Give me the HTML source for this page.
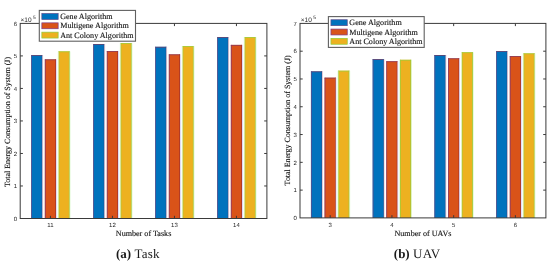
<!DOCTYPE html>
<html><head><meta charset="utf-8"><style>
html,body{margin:0;padding:0;background:#fff;}
svg{display:block;text-rendering:geometricPrecision;}
.tk{font-family:"Liberation Sans",sans-serif;font-size:6px;fill:#222;}
.sup{font-size:4.9px;}
.ex{font-size:6.5px;}
.lab{font-family:"Liberation Serif",serif;font-size:8.1px;fill:#111;stroke:#111;stroke-width:0.12px;}
.cap{font-family:"Liberation Serif",serif;font-size:13px;fill:#1a1a1a;}
.bd{font-weight:bold;}
.yl{font-size:7.95px;}
</style></head><body>
<svg width="550" height="264" viewBox="0 0 550 264">
<rect width="550" height="264" fill="#fff"/>
<rect x="31.20" y="55.15" width="11.20" height="163.35" fill="#0072BD"/>
<rect x="31.20" y="55.15" width="11.20" height="0.8" fill="#6a3f6a"/>
<rect x="31.20" y="55.15" width="0.8" height="163.35" fill="#5a4f8a"/>
<rect x="41.60" y="55.15" width="0.8" height="163.35" fill="#1a5a9a"/>
<rect x="42.40" y="55.15" width="0.7" height="163.35" fill="#f2c4d0"/>
<rect x="44.85" y="59.40" width="11.20" height="159.10" fill="#D95319"/>
<rect x="44.85" y="59.40" width="11.20" height="0.8" fill="#8a3a5a"/>
<rect x="44.85" y="59.40" width="0.8" height="159.10" fill="#8a3a6a"/>
<rect x="55.25" y="59.40" width="0.8" height="159.10" fill="#a8352a"/>
<rect x="56.05" y="59.40" width="0.7" height="159.10" fill="#d4d4fa"/>
<rect x="58.50" y="51.40" width="11.20" height="167.10" fill="#EDB120"/>
<rect x="58.50" y="51.40" width="11.20" height="0.8" fill="#a0cc3a"/>
<rect x="58.50" y="51.40" width="0.8" height="167.10" fill="#a4cc38"/>
<rect x="68.90" y="51.40" width="0.8" height="167.10" fill="#9cc83a"/>
<rect x="57.80" y="51.40" width="0.7" height="167.10" fill="#e0f8d0"/>
<rect x="69.70" y="51.40" width="0.7" height="167.10" fill="#d8f8c8"/>
<rect x="93.20" y="44.00" width="11.20" height="174.50" fill="#0072BD"/>
<rect x="93.20" y="44.00" width="11.20" height="0.8" fill="#6a3f6a"/>
<rect x="93.20" y="44.00" width="0.8" height="174.50" fill="#5a4f8a"/>
<rect x="103.60" y="44.00" width="0.8" height="174.50" fill="#1a5a9a"/>
<rect x="104.40" y="44.00" width="0.7" height="174.50" fill="#f2c4d0"/>
<rect x="106.85" y="51.10" width="11.20" height="167.40" fill="#D95319"/>
<rect x="106.85" y="51.10" width="11.20" height="0.8" fill="#8a3a5a"/>
<rect x="106.85" y="51.10" width="0.8" height="167.40" fill="#8a3a6a"/>
<rect x="117.25" y="51.10" width="0.8" height="167.40" fill="#a8352a"/>
<rect x="118.05" y="51.10" width="0.7" height="167.40" fill="#d4d4fa"/>
<rect x="120.50" y="43.10" width="11.20" height="175.40" fill="#EDB120"/>
<rect x="120.50" y="43.10" width="11.20" height="0.8" fill="#a0cc3a"/>
<rect x="120.50" y="43.10" width="0.8" height="175.40" fill="#a4cc38"/>
<rect x="130.90" y="43.10" width="0.8" height="175.40" fill="#9cc83a"/>
<rect x="119.80" y="43.10" width="0.7" height="175.40" fill="#e0f8d0"/>
<rect x="131.70" y="43.10" width="0.7" height="175.40" fill="#d8f8c8"/>
<rect x="155.20" y="46.80" width="11.20" height="171.70" fill="#0072BD"/>
<rect x="155.20" y="46.80" width="11.20" height="0.8" fill="#6a3f6a"/>
<rect x="155.20" y="46.80" width="0.8" height="171.70" fill="#5a4f8a"/>
<rect x="165.60" y="46.80" width="0.8" height="171.70" fill="#1a5a9a"/>
<rect x="166.40" y="46.80" width="0.7" height="171.70" fill="#f2c4d0"/>
<rect x="168.85" y="54.40" width="11.20" height="164.10" fill="#D95319"/>
<rect x="168.85" y="54.40" width="11.20" height="0.8" fill="#8a3a5a"/>
<rect x="168.85" y="54.40" width="0.8" height="164.10" fill="#8a3a6a"/>
<rect x="179.25" y="54.40" width="0.8" height="164.10" fill="#a8352a"/>
<rect x="180.05" y="54.40" width="0.7" height="164.10" fill="#d4d4fa"/>
<rect x="182.50" y="46.10" width="11.20" height="172.40" fill="#EDB120"/>
<rect x="182.50" y="46.10" width="11.20" height="0.8" fill="#a0cc3a"/>
<rect x="182.50" y="46.10" width="0.8" height="172.40" fill="#a4cc38"/>
<rect x="192.90" y="46.10" width="0.8" height="172.40" fill="#9cc83a"/>
<rect x="181.80" y="46.10" width="0.7" height="172.40" fill="#e0f8d0"/>
<rect x="193.70" y="46.10" width="0.7" height="172.40" fill="#d8f8c8"/>
<rect x="217.20" y="37.10" width="11.20" height="181.40" fill="#0072BD"/>
<rect x="217.20" y="37.10" width="11.20" height="0.8" fill="#6a3f6a"/>
<rect x="217.20" y="37.10" width="0.8" height="181.40" fill="#5a4f8a"/>
<rect x="227.60" y="37.10" width="0.8" height="181.40" fill="#1a5a9a"/>
<rect x="228.40" y="37.10" width="0.7" height="181.40" fill="#f2c4d0"/>
<rect x="230.85" y="44.90" width="11.20" height="173.60" fill="#D95319"/>
<rect x="230.85" y="44.90" width="11.20" height="0.8" fill="#8a3a5a"/>
<rect x="230.85" y="44.90" width="0.8" height="173.60" fill="#8a3a6a"/>
<rect x="241.25" y="44.90" width="0.8" height="173.60" fill="#a8352a"/>
<rect x="242.05" y="44.90" width="0.7" height="173.60" fill="#d4d4fa"/>
<rect x="244.50" y="37.10" width="11.20" height="181.40" fill="#EDB120"/>
<rect x="244.50" y="37.10" width="11.20" height="0.8" fill="#a0cc3a"/>
<rect x="244.50" y="37.10" width="0.8" height="181.40" fill="#a4cc38"/>
<rect x="254.90" y="37.10" width="0.8" height="181.40" fill="#9cc83a"/>
<rect x="243.80" y="37.10" width="0.7" height="181.40" fill="#e0f8d0"/>
<rect x="255.70" y="37.10" width="0.7" height="181.40" fill="#d8f8c8"/>
<rect x="20.2" y="23.4" width="246.70" height="195.10" fill="none" stroke="#3a3a3a" stroke-width="1"/>
<text x="17.10" y="220.70" class="tk" text-anchor="end">0</text>
<path d="M20.2 185.98h2.7M266.9 185.98h-2.7" stroke="#3a3a3a" stroke-width="1"/>
<text x="17.10" y="188.18" class="tk" text-anchor="end">1</text>
<path d="M20.2 153.47h2.7M266.9 153.47h-2.7" stroke="#3a3a3a" stroke-width="1"/>
<text x="17.10" y="155.67" class="tk" text-anchor="end">2</text>
<path d="M20.2 120.95h2.7M266.9 120.95h-2.7" stroke="#3a3a3a" stroke-width="1"/>
<text x="17.10" y="123.15" class="tk" text-anchor="end">3</text>
<path d="M20.2 88.43h2.7M266.9 88.43h-2.7" stroke="#3a3a3a" stroke-width="1"/>
<text x="17.10" y="90.63" class="tk" text-anchor="end">4</text>
<path d="M20.2 55.92h2.7M266.9 55.92h-2.7" stroke="#3a3a3a" stroke-width="1"/>
<text x="17.10" y="58.12" class="tk" text-anchor="end">5</text>
<text x="17.10" y="25.60" class="tk" text-anchor="end">6</text>
<path d="M50.45 218.5v-2.7M50.45 23.4v2.7" stroke="#3a3a3a" stroke-width="1"/>
<text x="50.45" y="227.2" class="tk" text-anchor="middle">11</text>
<path d="M112.45 218.5v-2.7M112.45 23.4v2.7" stroke="#3a3a3a" stroke-width="1"/>
<text x="112.45" y="227.2" class="tk" text-anchor="middle">12</text>
<path d="M174.45 218.5v-2.7M174.45 23.4v2.7" stroke="#3a3a3a" stroke-width="1"/>
<text x="174.45" y="227.2" class="tk" text-anchor="middle">13</text>
<path d="M236.45 218.5v-2.7M236.45 23.4v2.7" stroke="#3a3a3a" stroke-width="1"/>
<text x="236.45" y="227.2" class="tk" text-anchor="middle">14</text>
<text x="20.50" y="21.9" class="tk ex">×10</text>
<text x="32.90" y="19.3" class="tk sup">5</text>
<text x="143.55" y="236.4" class="lab" text-anchor="middle">Number of Tasks</text>
<text transform="translate(10.4,121.95) rotate(-90)" class="lab yl" text-anchor="middle">Total Energy Consumption of System (J)</text>
<rect x="39.3" y="10.4" width="96.2" height="30.8" fill="#fff" stroke="#606060" stroke-width="1.1"/>
<rect x="41.85" y="13.55" width="16.3" height="5.9" fill="#0072BD" stroke="#5a4a8a" stroke-width="0.7"/>
<text x="60.20" y="19.00" class="lab">Gene Algorithm</text>
<rect x="41.85" y="22.85" width="16.3" height="5.9" fill="#D95319" stroke="#7a3a8a" stroke-width="0.7"/>
<text x="60.20" y="28.30" class="lab">Multigene Algorithm</text>
<rect x="41.85" y="32.15" width="16.3" height="5.9" fill="#EDB120" stroke="#8ccc3a" stroke-width="0.7"/>
<text x="60.20" y="37.60" class="lab">Ant Colony Algorithm</text>
<text x="116" y="257.9" class="cap"><tspan class="bd">(a)</tspan> <tspan letter-spacing="0.2">Task</tspan></text>
<rect x="310.95" y="71.40" width="11.20" height="146.50" fill="#0072BD"/>
<rect x="310.95" y="71.40" width="11.20" height="0.8" fill="#6a3f6a"/>
<rect x="310.95" y="71.40" width="0.8" height="146.50" fill="#5a4f8a"/>
<rect x="321.35" y="71.40" width="0.8" height="146.50" fill="#1a5a9a"/>
<rect x="322.15" y="71.40" width="0.7" height="146.50" fill="#f2c4d0"/>
<rect x="324.60" y="77.70" width="11.20" height="140.20" fill="#D95319"/>
<rect x="324.60" y="77.70" width="11.20" height="0.8" fill="#8a3a5a"/>
<rect x="324.60" y="77.70" width="0.8" height="140.20" fill="#8a3a6a"/>
<rect x="335.00" y="77.70" width="0.8" height="140.20" fill="#a8352a"/>
<rect x="335.80" y="77.70" width="0.7" height="140.20" fill="#d4d4fa"/>
<rect x="338.25" y="70.70" width="11.20" height="147.20" fill="#EDB120"/>
<rect x="338.25" y="70.70" width="11.20" height="0.8" fill="#a0cc3a"/>
<rect x="338.25" y="70.70" width="0.8" height="147.20" fill="#a4cc38"/>
<rect x="348.65" y="70.70" width="0.8" height="147.20" fill="#9cc83a"/>
<rect x="337.55" y="70.70" width="0.7" height="147.20" fill="#e0f8d0"/>
<rect x="349.45" y="70.70" width="0.7" height="147.20" fill="#d8f8c8"/>
<rect x="372.68" y="59.20" width="11.20" height="158.70" fill="#0072BD"/>
<rect x="372.68" y="59.20" width="11.20" height="0.8" fill="#6a3f6a"/>
<rect x="372.68" y="59.20" width="0.8" height="158.70" fill="#5a4f8a"/>
<rect x="383.08" y="59.20" width="0.8" height="158.70" fill="#1a5a9a"/>
<rect x="383.88" y="59.20" width="0.7" height="158.70" fill="#f2c4d0"/>
<rect x="386.33" y="61.30" width="11.20" height="156.60" fill="#D95319"/>
<rect x="386.33" y="61.30" width="11.20" height="0.8" fill="#8a3a5a"/>
<rect x="386.33" y="61.30" width="0.8" height="156.60" fill="#8a3a6a"/>
<rect x="396.73" y="61.30" width="0.8" height="156.60" fill="#a8352a"/>
<rect x="397.53" y="61.30" width="0.7" height="156.60" fill="#d4d4fa"/>
<rect x="399.98" y="59.80" width="11.20" height="158.10" fill="#EDB120"/>
<rect x="399.98" y="59.80" width="11.20" height="0.8" fill="#a0cc3a"/>
<rect x="399.98" y="59.80" width="0.8" height="158.10" fill="#a4cc38"/>
<rect x="410.38" y="59.80" width="0.8" height="158.10" fill="#9cc83a"/>
<rect x="399.28" y="59.80" width="0.7" height="158.10" fill="#e0f8d0"/>
<rect x="411.18" y="59.80" width="0.7" height="158.10" fill="#d8f8c8"/>
<rect x="434.41" y="55.00" width="11.20" height="162.90" fill="#0072BD"/>
<rect x="434.41" y="55.00" width="11.20" height="0.8" fill="#6a3f6a"/>
<rect x="434.41" y="55.00" width="0.8" height="162.90" fill="#5a4f8a"/>
<rect x="444.81" y="55.00" width="0.8" height="162.90" fill="#1a5a9a"/>
<rect x="445.61" y="55.00" width="0.7" height="162.90" fill="#f2c4d0"/>
<rect x="448.06" y="58.35" width="11.20" height="159.55" fill="#D95319"/>
<rect x="448.06" y="58.35" width="11.20" height="0.8" fill="#8a3a5a"/>
<rect x="448.06" y="58.35" width="0.8" height="159.55" fill="#8a3a6a"/>
<rect x="458.46" y="58.35" width="0.8" height="159.55" fill="#a8352a"/>
<rect x="459.26" y="58.35" width="0.7" height="159.55" fill="#d4d4fa"/>
<rect x="461.71" y="52.30" width="11.20" height="165.60" fill="#EDB120"/>
<rect x="461.71" y="52.30" width="11.20" height="0.8" fill="#a0cc3a"/>
<rect x="461.71" y="52.30" width="0.8" height="165.60" fill="#a4cc38"/>
<rect x="472.11" y="52.30" width="0.8" height="165.60" fill="#9cc83a"/>
<rect x="461.01" y="52.30" width="0.7" height="165.60" fill="#e0f8d0"/>
<rect x="472.91" y="52.30" width="0.7" height="165.60" fill="#d8f8c8"/>
<rect x="496.14" y="51.20" width="11.20" height="166.70" fill="#0072BD"/>
<rect x="496.14" y="51.20" width="11.20" height="0.8" fill="#6a3f6a"/>
<rect x="496.14" y="51.20" width="0.8" height="166.70" fill="#5a4f8a"/>
<rect x="506.54" y="51.20" width="0.8" height="166.70" fill="#1a5a9a"/>
<rect x="507.34" y="51.20" width="0.7" height="166.70" fill="#f2c4d0"/>
<rect x="509.79" y="56.10" width="11.20" height="161.80" fill="#D95319"/>
<rect x="509.79" y="56.10" width="11.20" height="0.8" fill="#8a3a5a"/>
<rect x="509.79" y="56.10" width="0.8" height="161.80" fill="#8a3a6a"/>
<rect x="520.19" y="56.10" width="0.8" height="161.80" fill="#a8352a"/>
<rect x="520.99" y="56.10" width="0.7" height="161.80" fill="#d4d4fa"/>
<rect x="523.44" y="53.40" width="11.20" height="164.50" fill="#EDB120"/>
<rect x="523.44" y="53.40" width="11.20" height="0.8" fill="#a0cc3a"/>
<rect x="523.44" y="53.40" width="0.8" height="164.50" fill="#a4cc38"/>
<rect x="533.84" y="53.40" width="0.8" height="164.50" fill="#9cc83a"/>
<rect x="522.74" y="53.40" width="0.7" height="164.50" fill="#e0f8d0"/>
<rect x="534.64" y="53.40" width="0.7" height="164.50" fill="#d8f8c8"/>
<rect x="300.0" y="23.4" width="245.90" height="194.50" fill="none" stroke="#3a3a3a" stroke-width="1"/>
<text x="296.90" y="220.10" class="tk" text-anchor="end">0</text>
<path d="M300.0 190.11h2.7M545.9 190.11h-2.7" stroke="#3a3a3a" stroke-width="1"/>
<text x="296.90" y="192.31" class="tk" text-anchor="end">1</text>
<path d="M300.0 162.33h2.7M545.9 162.33h-2.7" stroke="#3a3a3a" stroke-width="1"/>
<text x="296.90" y="164.53" class="tk" text-anchor="end">2</text>
<path d="M300.0 134.54h2.7M545.9 134.54h-2.7" stroke="#3a3a3a" stroke-width="1"/>
<text x="296.90" y="136.74" class="tk" text-anchor="end">3</text>
<path d="M300.0 106.76h2.7M545.9 106.76h-2.7" stroke="#3a3a3a" stroke-width="1"/>
<text x="296.90" y="108.96" class="tk" text-anchor="end">4</text>
<path d="M300.0 78.97h2.7M545.9 78.97h-2.7" stroke="#3a3a3a" stroke-width="1"/>
<text x="296.90" y="81.17" class="tk" text-anchor="end">5</text>
<path d="M300.0 51.19h2.7M545.9 51.19h-2.7" stroke="#3a3a3a" stroke-width="1"/>
<text x="296.90" y="53.39" class="tk" text-anchor="end">6</text>
<text x="296.90" y="25.60" class="tk" text-anchor="end">7</text>
<path d="M330.20 217.9v-2.7M330.20 23.4v2.7" stroke="#3a3a3a" stroke-width="1"/>
<text x="330.20" y="227.2" class="tk" text-anchor="middle">3</text>
<path d="M391.93 217.9v-2.7M391.93 23.4v2.7" stroke="#3a3a3a" stroke-width="1"/>
<text x="391.93" y="227.2" class="tk" text-anchor="middle">4</text>
<path d="M453.66 217.9v-2.7M453.66 23.4v2.7" stroke="#3a3a3a" stroke-width="1"/>
<text x="453.66" y="227.2" class="tk" text-anchor="middle">5</text>
<path d="M515.39 217.9v-2.7M515.39 23.4v2.7" stroke="#3a3a3a" stroke-width="1"/>
<text x="515.39" y="227.2" class="tk" text-anchor="middle">6</text>
<text x="300.80" y="21.9" class="tk ex">×10</text>
<text x="313.20" y="19.3" class="tk sup">5</text>
<text x="422.95" y="236.4" class="lab" text-anchor="middle">Number of UAVs</text>
<text transform="translate(289.6,120.4) rotate(-90)" class="lab yl" text-anchor="middle">Total Energy Consumption of System (J)</text>
<rect x="328.4" y="16.6" width="95.8" height="30.8" fill="#fff" stroke="#606060" stroke-width="1.1"/>
<rect x="330.95" y="19.75" width="16.3" height="5.9" fill="#0072BD" stroke="#5a4a8a" stroke-width="0.7"/>
<text x="349.30" y="25.20" class="lab">Gene Algorithm</text>
<rect x="330.95" y="29.05" width="16.3" height="5.9" fill="#D95319" stroke="#7a3a8a" stroke-width="0.7"/>
<text x="349.30" y="34.50" class="lab">Multigene Algorithm</text>
<rect x="330.95" y="38.35" width="16.3" height="5.9" fill="#EDB120" stroke="#8ccc3a" stroke-width="0.7"/>
<text x="349.30" y="43.80" class="lab">Ant Colony Algorithm</text>
<text x="393.8" y="257.9" class="cap"><tspan class="bd">(b)</tspan> <tspan letter-spacing="0.35">UAV</tspan></text>
</svg>
</body></html>
